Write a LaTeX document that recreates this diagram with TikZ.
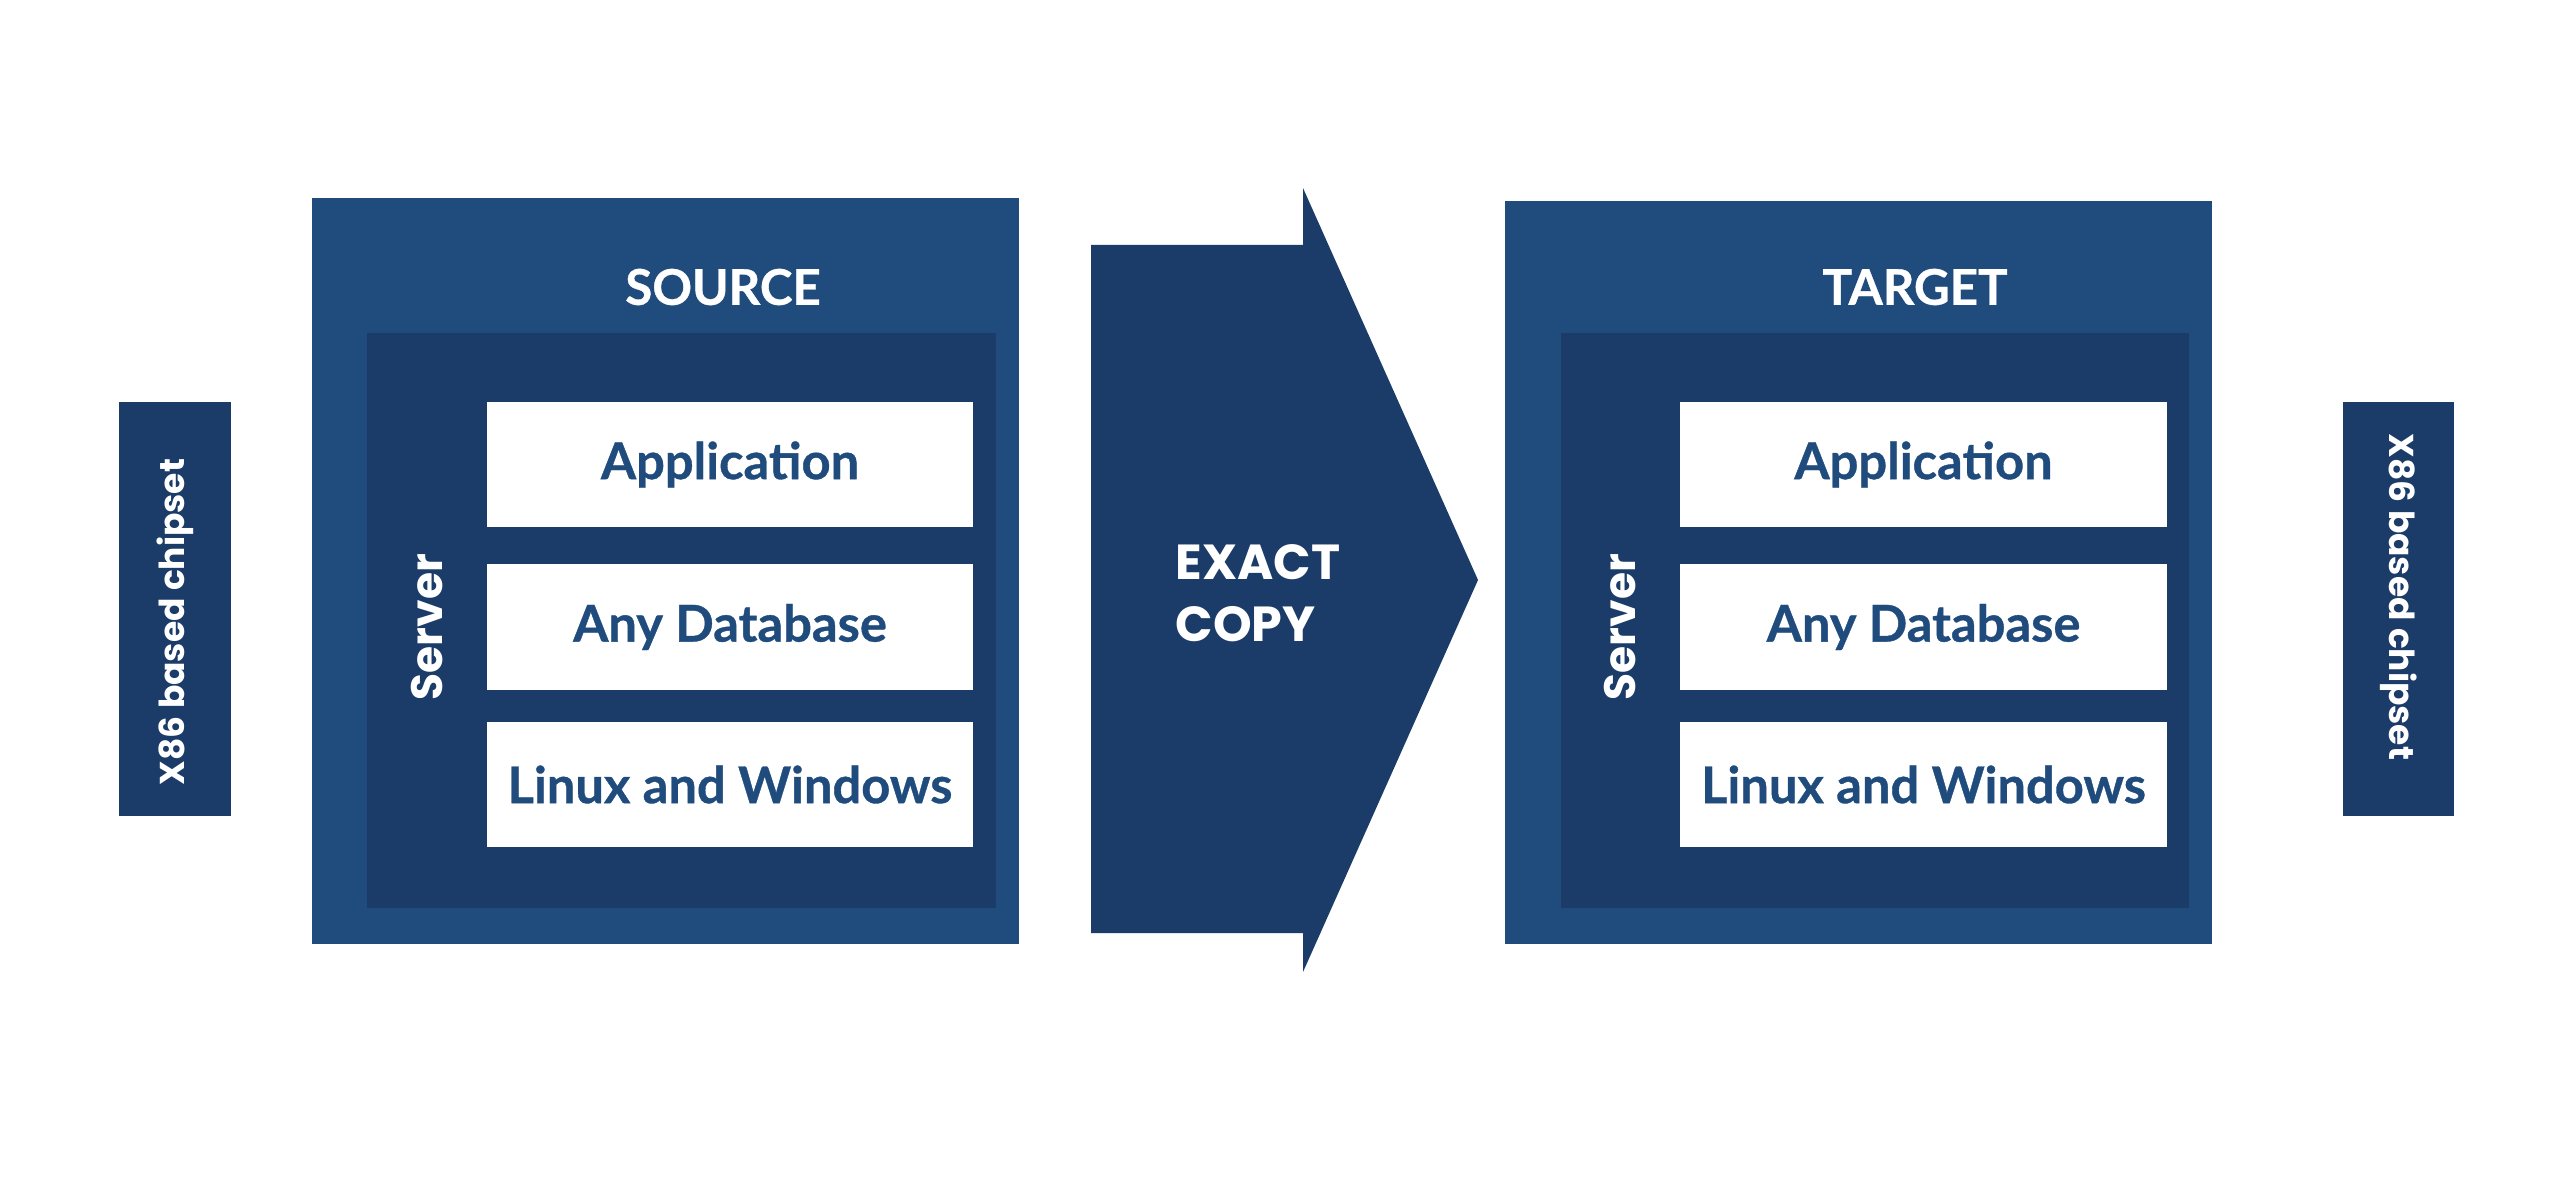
\documentclass[tikz,border=0pt]{standalone}
\usepackage{fontspec}
\setmainfont{Lato}[BoldFeatures={FakeBold=0.7}]
\newfontfamily\widefont{Poppins}
\definecolor{outerblue}{HTML}{1F4B7D}
\definecolor{innerblue}{HTML}{1B3C68}
\definecolor{textblue}{HTML}{1F4B7D}
\begin{document}
\begin{tikzpicture}[x=0.01cm,y=-0.01cm,
  outerbox/.style={fill=outerblue,draw=none},
  innerbox/.style={fill=innerblue,draw=none},
  layerbox/.style={fill=white,draw=none,minimum width=4.86cm,minimum height=1.25cm,inner sep=0pt,
     text=textblue,font=\fontsize{14.4}{17}\selectfont\bfseries},
  titletext/.style={text=white,font=\fontsize{14}{17}\selectfont\bfseries},
  sidetext/.style={text=white,font=\widefont\fontsize{12.5}{15}\selectfont\bfseries},
  chiptext/.style={text=white,font=\widefont\fontsize{9.8}{12}\selectfont\bfseries},
  chipbar/.style={fill=innerblue,draw=none,minimum width=1.11cm,minimum height=4.14cm,inner sep=0pt}]
\useasboundingbox (0,0) rectangle (2560,1179);
\fill[white] (0,0) rectangle (2560,1179);

% left chipset
\node[chipbar] (chipL) at (175,609) {};
\node[chiptext,rotate=90] (chipLt) at ([yshift=-0.13cm]chipL.center) {X86 based chipset};

% source
\draw[outerbox] (312,198) rectangle (1019,944);
\node[titletext] (srcTitle) at (723,287) {SOURCE};
\draw[innerbox] (367,333) rectangle (996,908);
\node[layerbox] (srcApp) at (730,464.5) {Application};
\node[layerbox] (srcDb) at (730,627) {Any Database};
\node[layerbox] (srcOs) at (730,784.5) {Linux and Windows};
\node[sidetext,rotate=90] (srcServer) at (427,627) {Server};

% arrow
\fill[innerblue] (1091,245) -- (1303,245) -- (1303,188) -- (1478,580) -- (1303,972) -- (1303,933) -- (1091,933) -- cycle;
\node[text=white,font=\widefont\fontsize{14}{17.6}\selectfont\bfseries,align=left,anchor=west,inner sep=0pt] (copy) at (1175,593) {EXACT\\COPY};

% target
\draw[outerbox] (1505,201) rectangle (2212,944);
\node[titletext] (tgtTitle) at (1915,287) {TARGET};
\draw[innerbox] (1561,333) rectangle (2189,908);
\node[layerbox] (tgtApp) at (1923.5,464.5) {Application};
\node[layerbox] (tgtDb) at (1923.5,627) {Any Database};
\node[layerbox] (tgtOs) at (1923.5,784.5) {Linux and Windows};
\node[sidetext,rotate=90] (tgtServer) at (1620,627) {Server};

% right chipset
\node[chipbar] (chipR) at (2398.5,609) {};
\node[chiptext,rotate=-90] (chipRt) at ([yshift=0.12cm]chipR.center) {X86 based chipset};
\end{tikzpicture}
\end{document}
